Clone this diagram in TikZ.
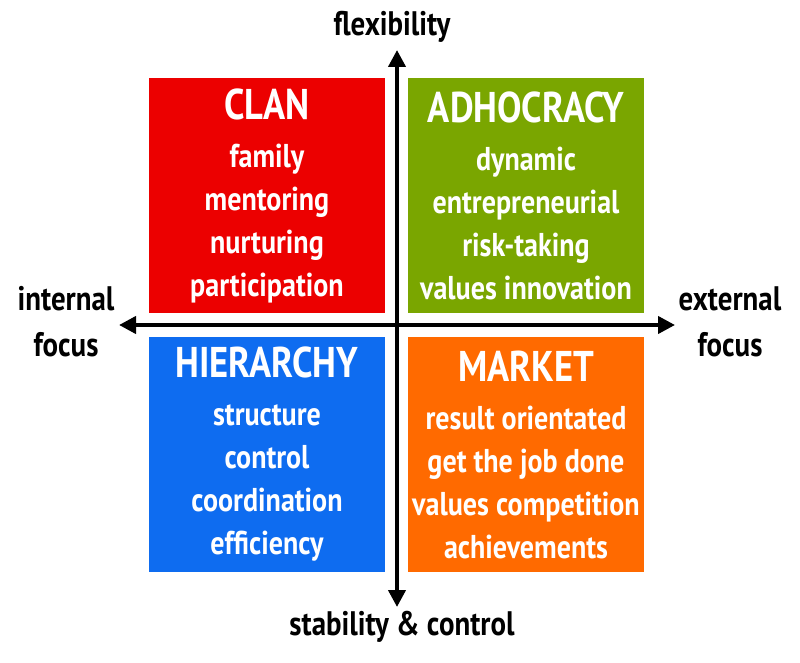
\documentclass[tikz,border=0pt]{standalone}
\usepackage{fontspec}
\setmainfont{PT Sans}[FakeStretch=0.85, UprightFont=*-Bold]
\usetikzlibrary{arrows.meta,positioning}
\definecolor{clanred}{RGB}{236,0,0}
\definecolor{adhogreen}{RGB}{122,166,0}
\definecolor{hierblue}{RGB}{14,108,240}
\definecolor{markorange}{RGB}{255,106,0}

\begin{document}
\begin{tikzpicture}[x=1pt, y=-1pt,
  quad/.style={inner sep=0pt, minimum width=236pt, minimum height=235pt,
               text=white, align=center, font=\fontsize{33}{43}\selectfont},
  axlab/.style={align=center, font=\fontsize{34}{46}\selectfont},
  axisline/.style={line width=4pt, {Triangle[length=17pt,width=17pt]}-{Triangle[length=17pt,width=17pt]}}]
  \useasboundingbox (0,0) rectangle (800,663);
  % the four quadrants
  \node[quad, fill=clanred]    (clan)  at (267,195.5) {{\fontsize{43}{46}\selectfont CLAN}\\[5pt]family\\mentoring\\nurturing\\participation};
  \node[quad, fill=adhogreen]  (adho)  at (526,195.5) {{\fontsize{43}{46}\selectfont ADHOCRACY}\\[5pt]dynamic\\entrepreneurial\\risk-taking\\values innovation};
  \node[quad, fill=hierblue]   (hier)  at (267,454.5) {{\fontsize{43}{46}\selectfont HIERARCHY}\\[5pt]structure\\control\\coordination\\efficiency};
  \node[quad, fill=markorange] (mark)  at (526,454.5) {{\fontsize{43}{46}\selectfont MARKET}\\[5pt]result orientated\\get the job done\\values competition\\achievements};
  % axes
  \coordinate (top)    at (397,50);
  \coordinate (bottom) at (397,607);
  \coordinate (left)   at (119,325);
  \coordinate (right)  at (675,325);
  \draw[axisline] (top) -- (bottom);
  \draw[axisline] (left) -- (right);
  \node[axlab] (flex)  at (392,27)  {flexibility};
  \node[axlab] (stab)  at (402,627) {stability \& control};
  \node[axlab] (intl)  at (66,322)  {internal\\focus};
  \node[axlab] (extl)  at (730,322) {external\\focus};
\end{tikzpicture}
\end{document}
